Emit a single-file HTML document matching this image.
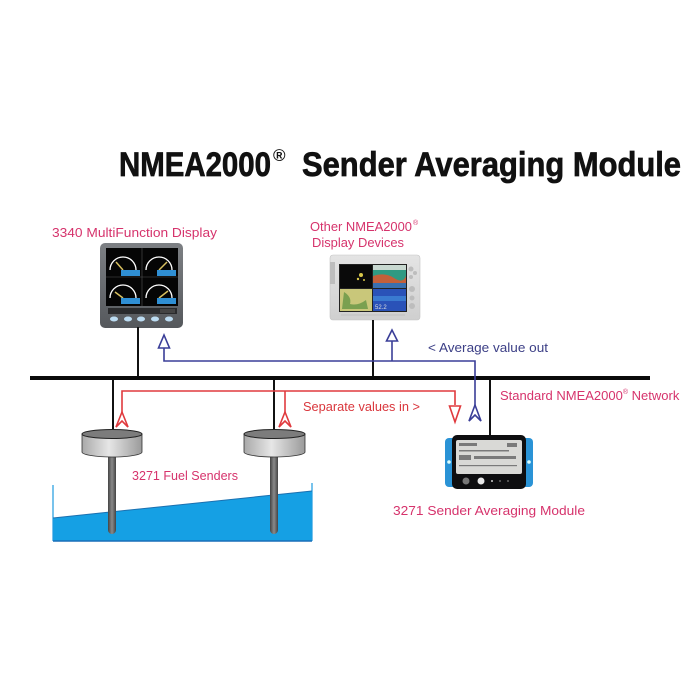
<!DOCTYPE html>
<html><head><meta charset="utf-8"><style>
html,body{margin:0;padding:0;background:#fff;}
svg{display:block;}
text{font-family:"Liberation Sans",Arial,sans-serif;}
</style></head><body>
<svg width="700" height="700" viewBox="0 0 700 700" xmlns="http://www.w3.org/2000/svg">
<defs>
<linearGradient id="mfd" x1="0" y1="0" x2="0" y2="1"><stop offset="0" stop-color="#7d8084"/><stop offset="1" stop-color="#55585c"/></linearGradient>
<linearGradient id="disk" x1="0" y1="0" x2="1" y2="0"><stop offset="0" stop-color="#a9a9a9"/><stop offset="0.45" stop-color="#e6e6e6"/><stop offset="1" stop-color="#9a9a9a"/></linearGradient>
<linearGradient id="rod" x1="0" y1="0" x2="1" y2="0"><stop offset="0" stop-color="#444"/><stop offset="0.5" stop-color="#8a8a8a"/><stop offset="1" stop-color="#444"/></linearGradient>
<linearGradient id="dev" x1="0" y1="0" x2="0" y2="1"><stop offset="0" stop-color="#e4e4e4"/><stop offset="1" stop-color="#cfcfcf"/></linearGradient>
</defs>

<!-- Title -->
<text x="119" y="176" font-size="34" font-weight="bold" fill="#111" stroke="#111" stroke-width="0.7" textLength="152" lengthAdjust="spacingAndGlyphs">NMEA2000</text>
<text x="273" y="161" font-size="17" font-weight="bold" fill="#111">®</text>
<text x="302" y="176" font-size="34" font-weight="bold" fill="#111" stroke="#111" stroke-width="0.7" textLength="379" lengthAdjust="spacingAndGlyphs">Sender Averaging Module</text>

<!-- Labels -->
<text x="52" y="237" font-size="13" fill="#d6336c" textLength="165" lengthAdjust="spacingAndGlyphs">3340 MultiFunction Display</text>
<text x="310" y="231" font-size="13" fill="#d6336c" textLength="102" lengthAdjust="spacingAndGlyphs">Other NMEA2000</text>
<text x="413" y="225" font-size="7" fill="#d6336c">®</text>
<text x="312" y="247" font-size="13" fill="#d6336c" textLength="92" lengthAdjust="spacingAndGlyphs">Display Devices</text>

<!-- MFD device -->
<rect x="100" y="243" width="83" height="85" rx="5" fill="url(#mfd)"/>
<rect x="106" y="248" width="72" height="58" fill="#050505"/>
<g stroke="#fff" stroke-width="1.3" fill="none">
<path d="M110,270 A13,13 0 0 1 136,270"/><path d="M146,270 A13,13 0 0 1 172,270"/>
<path d="M110,298 A13,13 0 0 1 136,298"/><path d="M146,298 A13,13 0 0 1 172,298"/>
</g>
<g stroke="#d8c060" stroke-width="1.5">
<line x1="123" y1="270" x2="116" y2="262"/><line x1="159" y1="270" x2="167" y2="262"/>
<line x1="123" y1="298" x2="115" y2="292"/><line x1="159" y1="298" x2="168" y2="291"/>
</g>
<line x1="142" y1="248" x2="142" y2="306" stroke="#555" stroke-width="0.6"/>
<line x1="106" y1="277" x2="178" y2="277" stroke="#555" stroke-width="0.6"/>
<g fill="#2f8fd4">
<rect x="121" y="270" width="19" height="6"/><rect x="157" y="270" width="19" height="6"/>
<rect x="121" y="298" width="19" height="6"/><rect x="157" y="298" width="19" height="6"/>
</g>
<rect x="108" y="308" width="69" height="6" fill="#2a2b2d"/>
<rect x="160" y="309" width="15" height="4" fill="#444"/>
<g fill="#bcdcf2">
<ellipse cx="114" cy="319" rx="4" ry="2.5"/><ellipse cx="128" cy="319" rx="4" ry="2.5"/>
<ellipse cx="141" cy="319" rx="4" ry="2.5"/><ellipse cx="155" cy="319" rx="4" ry="2.5"/>
<ellipse cx="169" cy="319" rx="4" ry="2.5"/>
</g>

<!-- Other display device -->
<rect x="330" y="255" width="90" height="65" rx="3" fill="url(#dev)" stroke="#c4c4c4" stroke-width="0.6"/>
<rect x="330" y="262" width="5" height="22" fill="#bdbdbd"/>
<rect x="339" y="264" width="68" height="48" fill="#222"/>
<rect x="340" y="265" width="32" height="23" fill="#0a0a0a"/>
<circle cx="361" cy="275" r="2" fill="#d8c84a"/><circle cx="358" cy="279" r="1.2" fill="#d8c84a"/><circle cx="364" cy="280" r="1" fill="#d8c84a"/>
<rect x="373" y="265" width="33" height="23" fill="#2f9a82"/>
<rect x="373" y="265" width="33" height="5" fill="#c8d8d0"/>
<path d="M373,276 Q385,272 394,278 T406,276 L406,283 L373,283 Z" fill="#c4603a"/>
<rect x="373" y="283" width="33" height="5" fill="#3a70b0"/>
<rect x="340" y="289" width="32" height="22" fill="#c9c77a"/>
<path d="M344,292 Q352,297 350,304 Q358,306 366,300 L368,309 L342,309 Z" fill="#7aa050"/>
<rect x="373" y="289" width="33" height="22" fill="#2a52b8"/>
<rect x="373" y="296" width="33" height="5" fill="#3a7ad0"/>
<text x="375" y="309" font-size="6" fill="#ddd">52.2</text>
<g fill="#bdbdbd">
<circle cx="411" cy="269" r="2.5"/><circle cx="415" cy="273" r="2"/><circle cx="411" cy="277" r="2"/>
<circle cx="412" cy="289" r="3"/><circle cx="412" cy="298" r="2.5"/><circle cx="412" cy="306" r="3"/>
</g>
<rect x="341" y="314" width="64" height="2" fill="#c8c8c8"/>

<!-- Black network connections -->
<line x1="138" y1="327" x2="138" y2="378" stroke="#111" stroke-width="2"/>
<line x1="373" y1="320" x2="373" y2="378" stroke="#111" stroke-width="2"/>
<line x1="113" y1="378" x2="113" y2="431" stroke="#111" stroke-width="2"/>
<line x1="274" y1="378" x2="274" y2="431" stroke="#111" stroke-width="2"/>
<line x1="490" y1="378" x2="490" y2="436" stroke="#111" stroke-width="2"/>

<!-- Main bus -->
<rect x="30" y="376" width="620" height="4" fill="#0a0a0a"/>

<!-- Blue path -->
<g stroke="#3a3e98" stroke-width="1.6" fill="none">
<path d="M164,348 L164,361 L475,361 L475,410"/>
<path d="M392,341 L392,361"/>
</g>
<polygon points="164,335 158.5,348 169.5,348" fill="#fff" stroke="#3a3e98" stroke-width="1.6"/>
<polygon points="392,330 386.5,341 397.5,341" fill="#fff" stroke="#3a3e98" stroke-width="1.6"/>
<path d="M475,405 L481,421 L475,415 L469,421 Z" fill="#fff" stroke="#3a3e98" stroke-width="1.6"/>

<!-- Red path -->
<g stroke="#e03a3e" stroke-width="1.6" fill="none">
<path d="M122,418 L122,391 L455,391 L455,405"/>
<path d="M285,391 L285,418"/>
</g>
<polygon points="455,422 449.5,406 460.5,406" fill="#fff" stroke="#e03a3e" stroke-width="1.6"/>
<path d="M122,412 L128,427 L122,421 L116,427 Z" fill="#fff" stroke="#e03a3e" stroke-width="1.6"/>
<path d="M285,412 L291,427 L285,421 L279,427 Z" fill="#fff" stroke="#e03a3e" stroke-width="1.6"/>

<!-- Text near lines -->
<text x="428" y="352" font-size="13" fill="#3c3f86" textLength="120" lengthAdjust="spacingAndGlyphs">&lt; Average value out</text>
<text x="500" y="400" font-size="13" fill="#d6336c">Standard NMEA2000<tspan font-size="7" dy="-6">®</tspan><tspan dy="6"> Network</tspan></text>
<text x="303" y="411" font-size="13" fill="#d9363c" textLength="117" lengthAdjust="spacingAndGlyphs">Separate values in &gt;</text>

<!-- Tank -->
<polygon points="53,518 312,491 312,541 53,541" fill="#15a0e4"/>
<line x1="53" y1="485" x2="53" y2="541" stroke="#1e9be0" stroke-width="1.2"/>
<line x1="312" y1="483" x2="312" y2="541" stroke="#1e9be0" stroke-width="1.2"/>
<line x1="53" y1="541" x2="312" y2="541" stroke="#1a6fb8" stroke-width="1.4"/>
<line x1="53" y1="518" x2="312" y2="491" stroke="#1b70b0" stroke-width="1"/>

<!-- Rods -->
<rect x="108" y="452" width="8" height="82" rx="4" fill="url(#rod)"/>
<rect x="270" y="452" width="8" height="82" rx="4" fill="url(#rod)"/>

<!-- Sender disks -->
<g>
<path d="M82,434 L82,452 A30,5 0 0 0 142,452 L142,434 Z" fill="url(#disk)" stroke="#333" stroke-width="0.8"/>
<ellipse cx="112" cy="434" rx="30" ry="4.5" fill="#7c7c7c" stroke="#222" stroke-width="1"/>
<path d="M244,434 L244,452 A30.5,5 0 0 0 305,452 L305,434 Z" fill="url(#disk)" stroke="#333" stroke-width="0.8"/>
<ellipse cx="274.5" cy="434" rx="30.5" ry="4.5" fill="#7c7c7c" stroke="#222" stroke-width="1"/>
</g>

<text x="132" y="480" font-size="13" fill="#d6336c" textLength="106" lengthAdjust="spacingAndGlyphs">3271 Fuel Senders</text>

<!-- Averaging module -->
<rect x="445" y="438" width="88" height="49" rx="4" fill="#2a93d6"/>
<circle cx="449" cy="462" r="1.8" fill="#dff"/>
<circle cx="529" cy="462" r="1.8" fill="#dff"/>
<rect x="452" y="435" width="74" height="54" rx="5" fill="#0e0e10"/>
<rect x="456" y="440" width="66" height="34" rx="2" fill="#d9d9d6"/>
<g fill="#7a7a7a">
<rect x="459" y="443" width="18" height="3"/><rect x="507" y="443" width="10" height="4"/>
<rect x="459" y="450" width="50" height="1.5"/><rect x="459" y="455" width="12" height="5"/>
<rect x="474" y="456" width="42" height="3"/><rect x="459" y="465" width="58" height="1.2"/>
</g>
<circle cx="466" cy="481" r="3.5" fill="#777"/>
<circle cx="481" cy="481" r="3.5" fill="#e8e8e8"/>
<circle cx="492" cy="481" r="1" fill="#ccc"/><circle cx="500" cy="481" r="1" fill="#666"/><circle cx="508" cy="481" r="1" fill="#666"/>

<text x="393" y="515" font-size="13" fill="#d6336c" textLength="192" lengthAdjust="spacingAndGlyphs">3271 Sender  Averaging Module</text>
</svg>
</body></html>
